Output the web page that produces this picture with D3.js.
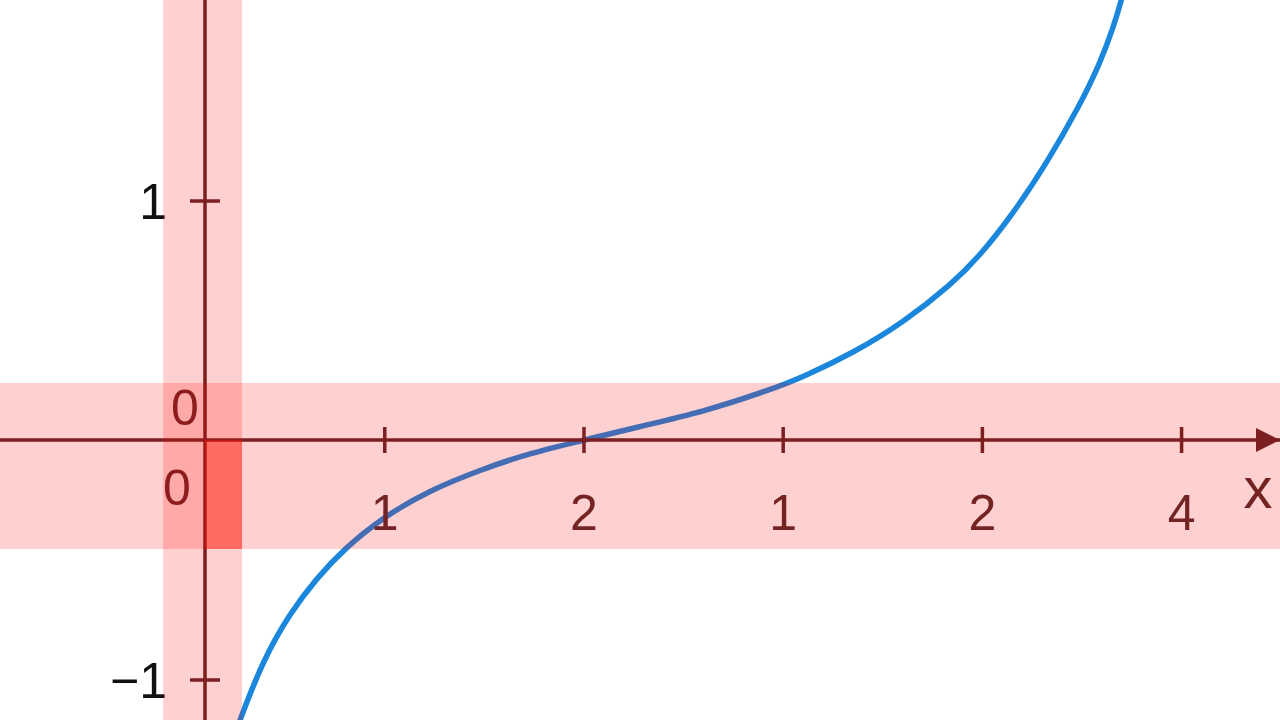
<!DOCTYPE html>
<html>
<head>
<meta charset="utf-8">
<script src="https://cdn.jsdelivr.net/npm/d3@7"></script>
<style>
  html, body { margin: 0; padding: 0; background: #fff; overflow: hidden; }
  text { font-family: "Liberation Sans", Arial, sans-serif; }
</style>
</head>
<body>
<script>
// curve (data units)
var curveX = [0.176, 0.291, 0.427, 0.562, 0.693, 0.894, 1.130, 1.381, 1.632, 1.908, 2.169, 2.500,
              2.836, 3.002, 3.253, 3.504, 3.755, 3.890, 4.056, 4.227, 4.393, 4.493, 4.558, 4.608, 4.659];
var curveY = [-1.169, -0.919, -0.722, -0.576, -0.459, -0.322, -0.209, -0.125, -0.054, 0, 0.054, 0.117,
              0.209, 0.263, 0.363, 0.489, 0.655, 0.770, 0.944, 1.158, 1.399, 1.574, 1.717, 1.857, 2.02];

var xTickValues = [0.9, 1.9, 2.9, 3.9, 4.9];
var xTickLabels = ['1', '2', '1', '2', '4'];
var yTickValues = [1, -1];
var yTickLabels = ['1', '\u22121'];

// highlighted strips (data units)
var bandX = [-0.21, 0.186];   // vertical strip
var bandY = [-0.455, 0.238];  // horizontal strip
var boxX = [0, 0.186];
var boxY = [-0.455, 0];

var W = 1280, H = 720;
var svg = d3.select('body').append('svg')
  .attr('width', W)
  .attr('height', H);

var x = d3.scaleLinear().domain([0, 1]).range([205, 404.2]);
var y = d3.scaleLinear().domain([0, 1]).range([440, 200.5]);

var axisColor = '#5e2629';
var labelColor = '#552c2c';

// curve
var pts = curveX.map((d, i) => [d, curveY[i]]);
svg.append('path')
  .datum(pts)
  .attr('fill', 'none')
  .attr('stroke', '#1a86dc')
  .attr('stroke-width', 5.5)
  .attr('stroke-linecap', 'round')
  .attr('d', d3.line().x(d => x(d[0])).y(d => y(d[1])).curve(d3.curveBasis));

// arrow head
svg.append('defs').append('marker')
  .attr('id', 'arrow')
  .attr('viewBox', '0 0 10 10')
  .attr('refX', 10).attr('refY', 5)
  .attr('markerWidth', 30).attr('markerHeight', 24)
  .attr('markerUnits', 'userSpaceOnUse')
  .attr('orient', 'auto')
  .append('path')
  .attr('d', 'M0,0 L10,5 L0,10 Z')
  .attr('fill', axisColor);

// axis lines
svg.append('line')
  .attr('x1', 0).attr('x2', W)
  .attr('y1', y(0)).attr('y2', y(0))
  .attr('stroke', axisColor).attr('stroke-width', 3.5)
  .attr('marker-end', 'url(#arrow)');
svg.append('line')
  .attr('x1', x(0)).attr('x2', x(0))
  .attr('y1', 0).attr('y2', H)
  .attr('stroke', axisColor).attr('stroke-width', 3.5);

// x ticks
var gx = svg.append('g')
  .attr('transform', 'translate(0,' + y(0) + ')')
  .call(d3.axisBottom(x).tickValues(xTickValues)
    .tickFormat((d, i) => xTickLabels[i]).tickSize(13).tickPadding(0));
gx.select('.domain').remove();
gx.selectAll('.tick line')
  .attr('y1', -13).attr('stroke', axisColor).attr('stroke-width', 3.5);
gx.selectAll('.tick text')
  .attr('y', 90).attr('dy', null)
  .attr('fill', labelColor)
  .style('font-size', '50px');

// y ticks
var gy = svg.append('g')
  .attr('transform', 'translate(' + x(0) + ',0)')
  .call(d3.axisLeft(y).tickValues(yTickValues)
    .tickFormat((d, i) => yTickLabels[i]).tickSize(15).tickPadding(0));
gy.select('.domain').remove();
gy.selectAll('.tick line')
  .attr('x2', 15).attr('x1', -15).attr('stroke', axisColor).attr('stroke-width', 3.5);
gy.selectAll('.tick text')
  .attr('x', -38).attr('dy', '0.36em')
  .attr('fill', '#111')
  .style('font-size', '50px');

// zero labels
svg.append('text')
  .attr('x', x(0) - 20).attr('y', 425)
  .attr('text-anchor', 'middle')
  .attr('fill', labelColor)
  .style('font-size', '50px')
  .text('0');
svg.append('text')
  .attr('x', x(0) - 28).attr('y', 505)
  .attr('text-anchor', 'middle')
  .attr('fill', labelColor)
  .style('font-size', '50px')
  .text('0');

// axis name
svg.append('text')
  .attr('x', 1258).attr('y', 508)
  .attr('text-anchor', 'middle')
  .attr('fill', labelColor)
  .style('font-size', '58px')
  .text('x');

// translucent highlight strips over everything
var bands = svg.append('g').style('pointer-events', 'none');
bands.append('rect')
  .attr('x', x(bandX[0])).attr('width', x(bandX[1]) - x(bandX[0]))
  .attr('y', 0).attr('height', H)
  .attr('fill', 'rgba(255,0,0,0.185)');
bands.append('rect')
  .attr('x', 0).attr('width', W)
  .attr('y', y(bandY[1])).attr('height', y(bandY[0]) - y(bandY[1]))
  .attr('fill', 'rgba(255,0,0,0.185)');
bands.append('rect')
  .attr('x', x(boxX[0])).attr('width', x(boxX[1]) - x(boxX[0]))
  .attr('y', y(boxY[1])).attr('height', y(boxY[0]) - y(boxY[1]))
  .attr('fill', 'rgba(255,20,0,0.42)');
</script>
</body>
</html>
